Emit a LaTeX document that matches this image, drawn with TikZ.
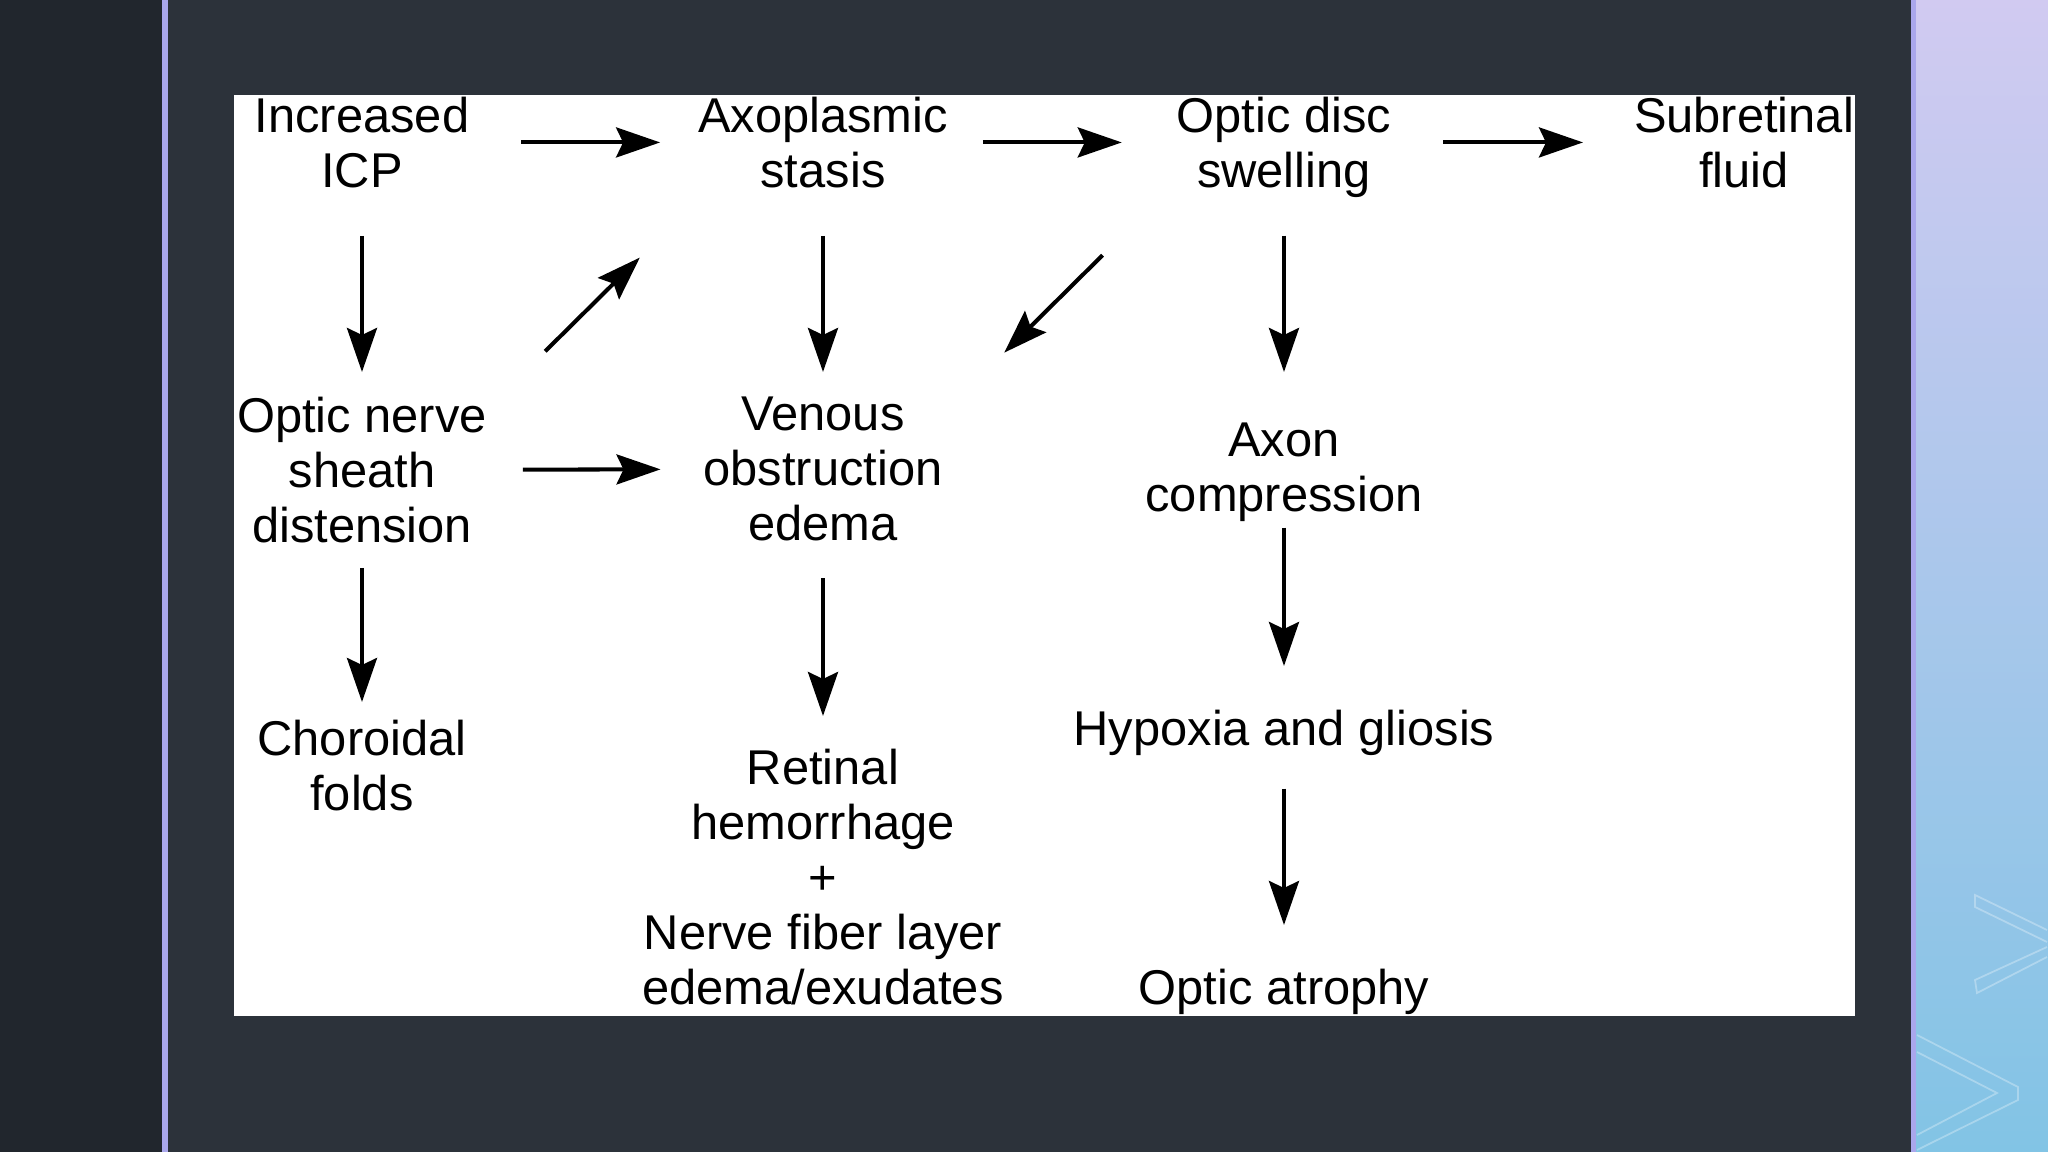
\documentclass[tikz,border=0pt]{standalone}
\usepackage{fontspec}
\setmainfont{Liberation Sans}
\usepackage{xcolor}
\usetikzlibrary{arrows.meta}
\definecolor{sidebar}{HTML}{21262D}
\definecolor{slidebg}{HTML}{2C323A}
\definecolor{edgeline}{HTML}{AAA7EC}
\definecolor{skytop}{HTML}{D1CAF1}
\definecolor{skymid}{HTML}{B4C8F0}
\definecolor{skybot}{HTML}{82C4E5}
\tikzset{
    cause/.style={anchor=north, align=center, inner sep=0pt, outer sep=0pt,
    font=\fontsize{13.9}{15.65}\selectfont, text=black},
    flow/.style={-{Stealth[length=0.44cm, width=0.30cm, inset=0.07cm]}, line width=1.15pt},
    chevron/.style={draw=white, draw opacity=0.3, line width=0.5pt},
}

\begin{document}
\begin{tikzpicture}
            % --- slide background ---
            \useasboundingbox (0,0) rectangle (20.48,-11.52);
            \fill[slidebg] (0,0) rectangle (20.48,-11.52);
            \fill[sidebar] (0,0) rectangle (1.62,-11.52);
            \fill[edgeline] (1.62,0) rectangle (1.68,-11.52);
            \shade[top color=skytop, middle color=skymid, bottom color=skybot] (19.16,0) rectangle (20.48,-11.52);
            \fill[edgeline] (19.11,0) rectangle (19.16,-11.52);
            \draw[chevron] (20.47,-9.30) -- (19.75,-8.95) -- (19.75,-9.07) -- (20.47,-9.42);
            \draw[chevron] (20.47,-9.47) -- (19.75,-9.80) -- (19.77,-9.93) -- (20.47,-9.57);
            \draw[chevron] (19.17,-10.35) -- (20.18,-10.87) -- (20.18,-11.00) -- (19.17,-11.50);
            \draw[chevron] (19.17,-10.52) -- (19.97,-10.93) -- (19.17,-11.35);
            \fill[white] (2.34,-0.95) rectangle (18.55,-10.16);
            % --- top row ---
            \node[cause] (icp) at (3.62,-0.97) {Increased\\ICP};
            \node[cause] (axo) at (8.23,-0.97) {Axoplasmic\\stasis};
            \node[cause] (disc) at (12.84,-0.97) {Optic disc\\swelling};
            \node[cause] (subret) at (17.44,-0.97) {Subretinal\\fluid};
            % --- middle row ---
            \node[cause] (sheath) at (3.62,-3.97) {Optic nerve\\sheath\\distension};
            \node[cause] (venous) at (8.23,-3.97) {Venous\\obstruction\\edema};
            \node[cause] (axon) at (12.84,-4.23) {Axon\\compression};
            % --- lower rows ---
            \node[cause] (choroid) at (3.62,-7.20) {Choroidal\\folds};
            \node[cause] (retina) at (8.23,-7.49) {Retinal\\hemorrhage\\+\\Nerve fiber layer\\edema/exudates};
            \node[cause] (hypox) at (12.84,-7.10) {Hypoxia and gliosis};
            \node[cause] (atrophy) at (12.84,-9.69) {Optic atrophy};
            % --- arrows ---
            \draw[flow, shorten <=0.52cm, shorten >=0.38cm] (icp.east) -- (axo.west);
            \draw[flow, shorten <=0.35cm, shorten >=0.55cm] (axo.east) -- (axo.east -| disc.west);
            \draw[flow, shorten <=0.52cm, shorten >=0.51cm] (subret.west -| disc.east) -- (subret.west);
            \draw[flow, shorten <=0.48cm, shorten >=0.25cm] (icp) -- (sheath);
            \draw[flow, shorten <=0.48cm, shorten >=0.25cm] (axo) -- (venous);
            \draw[flow, shorten <=0.38cm, shorten >=0.51cm] (disc) -- (axon);
            \draw[flow, shorten <=0.82cm, shorten >=0.82cm] ([yshift=-0.12cm]sheath.north east) -- ([yshift=-0.12cm]axo.south west);
            \draw[flow, shorten <=0.82cm, shorten >=0.63cm] ([xshift=-0.16cm]disc.south west) -- ([xshift=0.17cm]venous.north east);
            \draw[flow, shorten <=0.36cm, shorten >=0.43cm] (sheath) -- (venous);
            \draw[flow, shorten <=0.25cm, shorten >=0.18cm] (sheath) -- (choroid);
            \draw[flow, shorten <=0.37cm, shorten >=0.33cm] (venous) -- (retina);
            \draw[flow, shorten <=0.06cm, shorten >=0.44cm] (axon) -- (hypox);
            \draw[flow, shorten <=0.33cm, shorten >=0.44cm] (hypox) -- (atrophy);
\end{tikzpicture}
\end{document}
